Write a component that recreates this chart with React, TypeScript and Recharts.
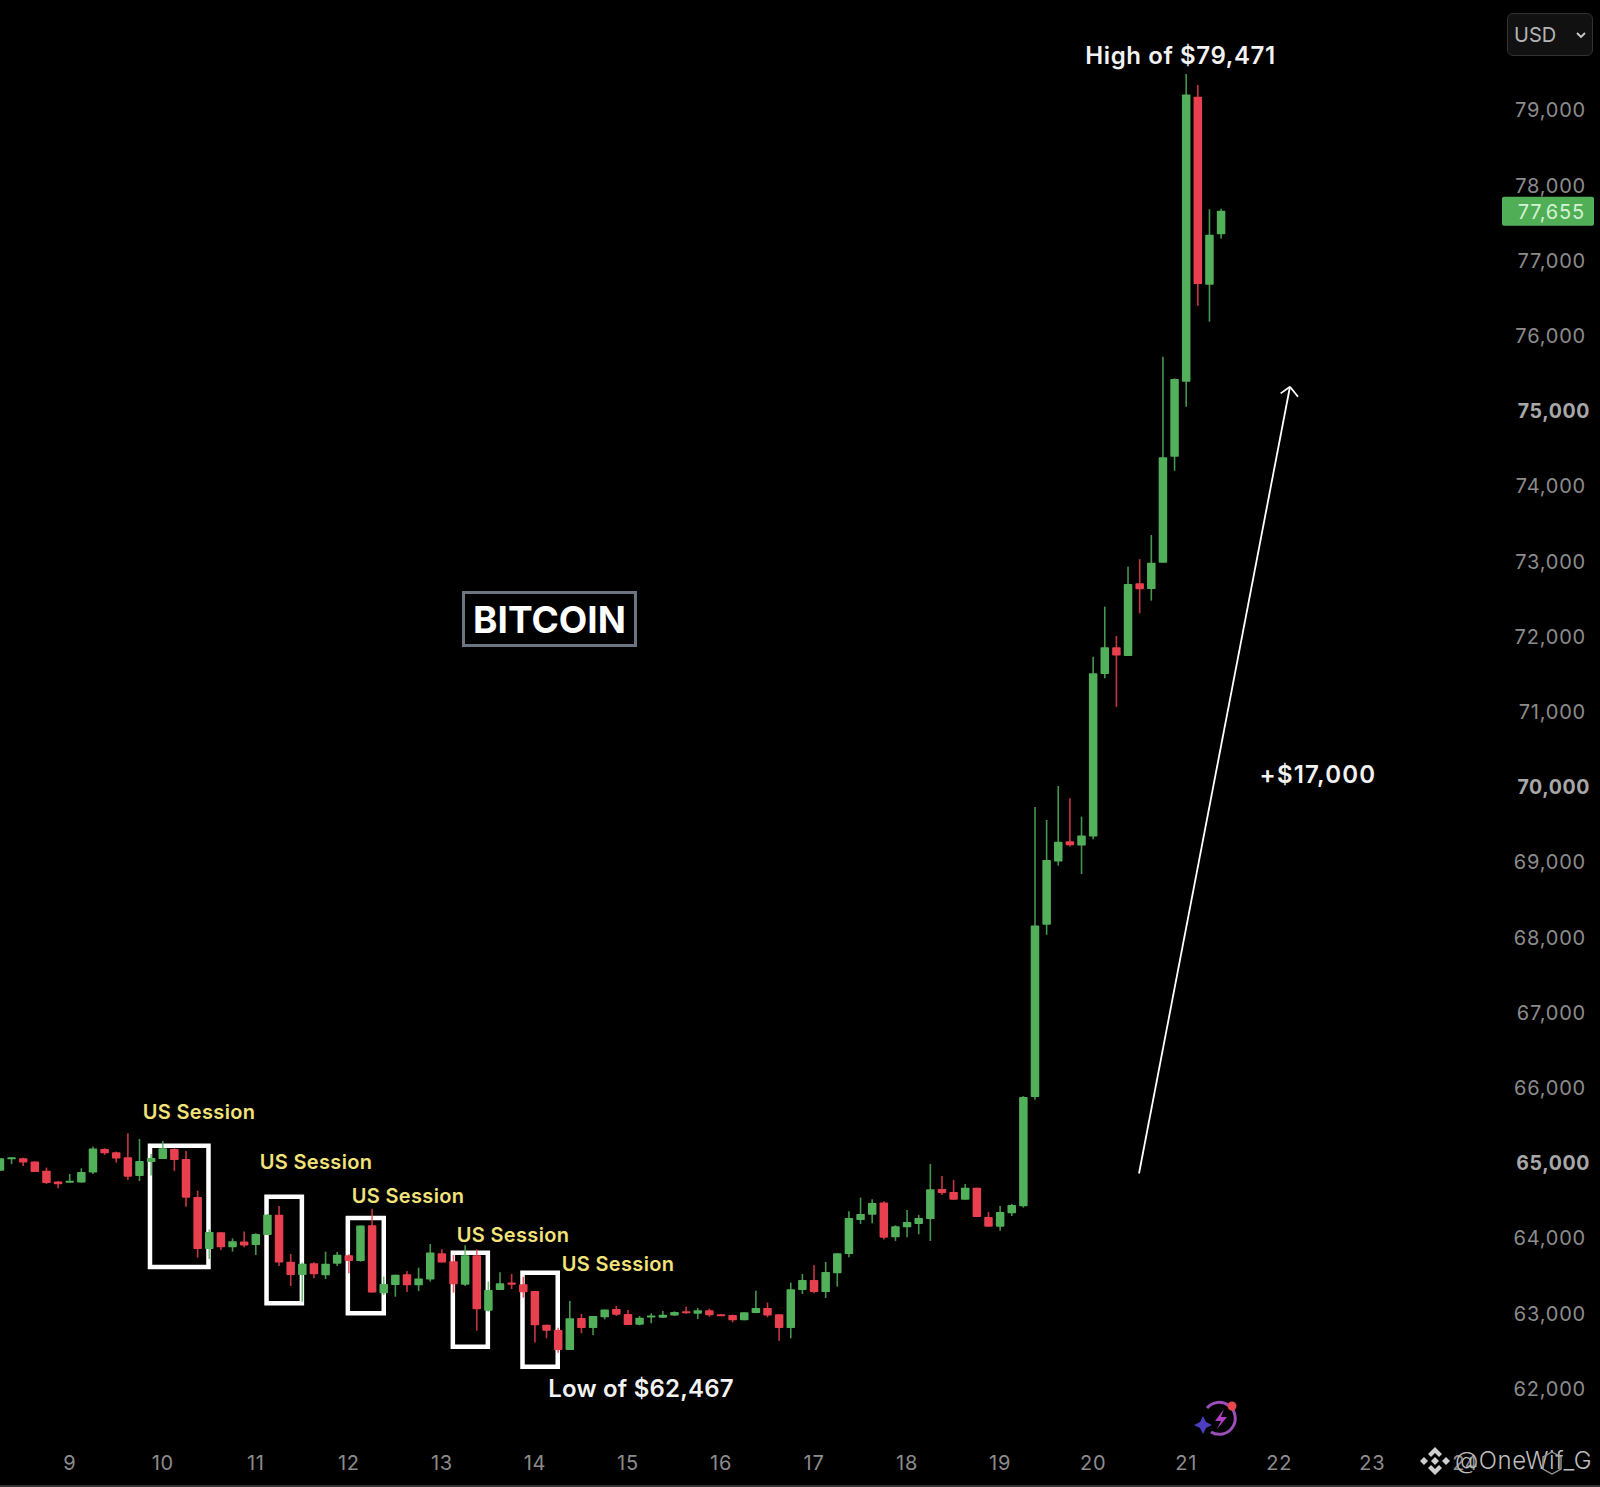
import { ComposedChart, Bar, XAxis, YAxis, ReferenceArea, ReferenceLine } from "recharts";

const opens = [64889,65049,65053,65009,64889,64743,64730,64730,64863,65177,65133,65067,64818,65004,65044,65177,65044,64539,63847,64069,63870,63945,63901,64034,64304,63679,63502,63657,63497,63652,63763,63688,64162,63258,63369,63510,63364,63440,63790,63683,63373,63763,63027,63302,63400,63377,63289,62841,62770,62504,62930,62797,62939,63049,62983,62841,62939,62934,62961,63018,62987,63032,62978,62970,62899,62996,63063,62979,62797,63302,63435,63276,63524,63781,64233,64304,64464,64003,64135,64180,64246,64645,64605,64503,64663,64273,64144,64322,64415,65868,68160,69000,69268,69211,69331,71494,71849,71733,72700,72624,72973,74383,75380,79170,76670,77340];
const highs = [65053,65067,65062,65009,64929,64752,64845,64920,65208,65186,65142,65386,65310,65111,65284,65186,65151,64623,64109,64069,63989,64078,64056,64313,64419,63781,63666,63670,63812,63807,63776,64158,64379,63480,63506,63555,63599,63914,63843,63768,63896,63843,63413,63537,63515,63479,63289,62841,62801,63156,62983,62956,63041,63089,63036,62956,62992,63023,63018,63080,63063,63054,62983,62974,63005,63293,63134,62979,63400,63515,63635,63675,63790,64348,64530,64508,64481,64162,64366,64300,64978,64818,64765,64712,64663,64340,64419,64446,65880,69725,69552,70004,69840,69597,71724,72389,72000,72921,73020,73341,75713,75424,79471,79325,77672,77680];
const lows = [64889,64978,64951,64871,64712,64654,64730,64730,64845,65098,64996,64765,64752,64823,65044,64885,64410,63732,63714,63834,63812,63870,63768,64034,63621,63355,63147,63457,63448,63621,63524,63679,63267,63236,63213,63275,63289,63413,63666,63267,63355,62761,63014,63302,63315,63200,62602,62659,62467,62504,62726,62704,62912,62956,62837,62832,62859,62930,62956,62987,62916,62947,62956,62872,62899,62992,62939,62628,62659,63249,63258,63196,63347,63737,64180,64189,63972,63954,64003,64042,63954,64566,64503,64503,64273,64144,64091,64286,64397,65830,68026,68945,69198,68834,69295,71436,71055,71733,72301,72469,72973,74197,75048,76391,76178,77282];
const closes = [65053,65067,64996,64871,64725,64707,64756,64871,65182,65120,65049,64809,65018,65058,65186,65031,64530,63847,64073,63870,63949,63892,64047,64304,63666,63502,63652,63511,63652,63772,63688,64158,63267,63382,63506,63364,63453,63799,63666,63377,63763,63045,63302,63391,63373,63271,62832,62761,62504,62925,62797,62956,63041,62974,62837,62934,62961,62974,63009,62996,63032,62965,62965,62899,63005,63063,62961,62797,63311,63435,63276,63542,63790,64260,64313,64459,63998,64149,64206,64260,64641,64592,64503,64663,64273,64144,64340,64433,65868,68149,69020,69264,69215,69344,71503,71849,71738,72691,72620,72973,74374,75416,79201,76679,77335,77655];

const dayTicks = [6, 14, 22, 30, 38, 46, 54, 62, 70, 78, 86, 94, 102, 110, 118, 126];
const dayLabels = ["9", "10", "11", "12", "13", "14", "15", "16", "17", "18", "19", "20", "21", "22", "23", "24"];
const priceTicks = [62000, 63000, 64000, 65000, 66000, 67000, 68000, 69000, 70000, 71000, 72000, 73000, 74000, 75000, 76000, 77000, 78000, 79000];
const boldPrices = [65000, 70000, 75000];
const lastPrice = 77655;

// [first index, last index, top price, bottom price]
const sessionBoxes = [
  [12.94, 17.97, 65221, 63607],
  [22.96, 26.0, 64542, 63125],
  [29.95, 33.04, 64259, 62992],
  [38.98, 41.99, 63796, 62547],
  [44.97, 48.0, 63532, 62282],
];

const GREEN = "#52b05a";
const RED = "#e8404f";

const candles = opens.map((open, i) => ({
  index: i,
  open,
  high: highs[i],
  low: lows[i],
  close: closes[i],
  range: [lows[i], highs[i]],
}));

function Candle(props: any) {
  const { x, y, width, height, payload } = props;
  const top = Math.min(y, y + height);
  const h = Math.abs(height);
  const perUnit = h / (payload.high - payload.low);
  const bodyTop = top + (payload.high - Math.max(payload.open, payload.close)) * perUnit;
  const bodyH = Math.max(Math.abs(payload.close - payload.open) * perUnit, 2);
  const color = payload.close >= payload.open ? GREEN : RED;
  const cx = x + width / 2;
  return (
    <g>
      <line x1={cx} x2={cx} y1={top} y2={top + h} stroke={color} strokeOpacity={0.85} strokeWidth={1.6} />
      <rect x={x} y={bodyTop} width={width} height={bodyH} fill={color} rx={0.8} />
    </g>
  );
}

function PriceTick(props: any) {
  const { y, payload } = props;
  const value = payload.value;
  const label = value.toLocaleString("en-US");
  if (value === lastPrice) {
    return (
      <g>
        <rect x={1502} y={y - 14} width={92} height={29} rx={2} fill="#4fae56" />
        <text x={1585} y={y + 8} textAnchor="end" fill="#d4f2d4" fontSize={20} letterSpacing={0.8} fontFamily="Inter">
          {label}
        </text>
      </g>
    );
  }
  const bold = boldPrices.includes(value);
  return (
    <text
      x={bold ? 1590 : 1586}
      y={y + 8}
      textAnchor="end"
      fill={bold ? "#a8a8a8" : "#8c8c8c"}
      fontSize={bold ? 19.5 : 20}
      fontWeight={bold ? 700 : 400}
      letterSpacing={bold ? 0.6 : 0.8}
      fontFamily="Inter"
    >
      {label}
    </text>
  );
}

function DayTick(props: any) {
  const { x, payload } = props;
  return (
    <text x={x + 0.5} y={1470} textAnchor="middle" fill="#8c8c8c" fontSize={20} letterSpacing={0.8} fontFamily="Inter">
      {dayLabels[dayTicks.indexOf(payload.value)]}
    </text>
  );
}

function Note({ x, y, size, color, spacing, children }: any) {
  return (
    <div
      style={{
        position: "absolute",
        left: x,
        top: y,
        transform: "translate(-50%, -50%)",
        color,
        fontSize: size,
        fontWeight: 600,
        fontFamily: "Inter",
        letterSpacing: spacing,
        whiteSpace: "nowrap",
        lineHeight: 1,
      }}
    >
      {children}
    </div>
  );
}

const YELLOW = "#f3e37a";

export default function App() {
  return (
    <div style={{ position: "absolute", left: 0, top: 0, width: 1600, height: 1487, background: "#000", overflow: "hidden" }}>
      <ComposedChart
        width={1600}
        height={1487}
        data={candles}
        margin={{ left: -0.5, right: 0, top: 0, bottom: 0 }}
        style={{ position: "absolute", left: 0, top: 0 }}
      >
        <XAxis
          dataKey="index"
          type="number"
          domain={[0, 129.02]}
          allowDataOverflow
          ticks={dayTicks}
          interval={0}
          height={47}
          axisLine={false}
          tickLine={false}
          tick={<DayTick />}
        />
        <YAxis
          type="number"
          orientation="right"
          domain={[61307, 80456]}
          allowDataOverflow
          ticks={[...priceTicks, lastPrice]}
          interval={0}
          width={100}
          axisLine={false}
          tickLine={false}
          tick={<PriceTick />}
        />
        {sessionBoxes.map(([x1, x2, y1, y2]) => (
          <ReferenceArea key={x1} x1={x1} x2={x2} y1={y1} y2={y2} fill="none" fillOpacity={0} stroke="#fff" strokeWidth={4.5} />
        ))}
        <Bar dataKey="range" barSize={8.5} shape={<Candle />} isAnimationActive={false} />
        <ReferenceLine segment={[{ x: 97.98, y: 64851 }, { x: 110.96, y: 75313 }]} stroke="#fff" strokeWidth={1.8} />
        <ReferenceLine segment={[{ x: 110.16, y: 75225 }, { x: 110.96, y: 75313 }]} stroke="#fff" strokeWidth={1.8} />
        <ReferenceLine segment={[{ x: 111.65, y: 75180 }, { x: 110.96, y: 75313 }]} stroke="#fff" strokeWidth={1.8} />
      </ComposedChart>

      <Note x={1180.5} y={56} size={24} spacing={0.6} color="#f2f2f2">High of $79,471</Note>
      <Note x={641} y={1389} size={24} spacing={0.2} color="#f2f2f2">Low of $62,467</Note>
      <Note x={1318} y={775} size={24} spacing={1.2} color="#f2f2f2">+$17,000</Note>
      <Note x={199} y={1112} size={20} spacing={0.35} color={YELLOW}>US Session</Note>
      <Note x={316} y={1162} size={20} spacing={0.35} color={YELLOW}>US Session</Note>
      <Note x={408} y={1196} size={20} spacing={0.35} color={YELLOW}>US Session</Note>
      <Note x={513} y={1235} size={20} spacing={0.35} color={YELLOW}>US Session</Note>
      <Note x={618} y={1264} size={20} spacing={0.35} color={YELLOW}>US Session</Note>

      <div
        style={{
          position: "absolute",
          left: 462,
          top: 591,
          width: 175,
          height: 56,
          boxSizing: "border-box",
          border: "3.5px solid #6c7482",
          color: "#fff",
          fontFamily: "Inter",
          fontWeight: 700,
          fontSize: 37,
          lineHeight: "52px",
          textAlign: "center",
        }}
      >
        BITCOIN
      </div>

      <div
        style={{
          position: "absolute",
          left: 1507,
          top: 13,
          width: 86,
          height: 43,
          boxSizing: "border-box",
          border: "1.5px solid #333",
          borderRadius: 6,
          background: "#111",
          color: "#b5b5b5",
          fontFamily: "Inter",
          fontSize: 20,
          lineHeight: "42px",
          paddingLeft: 6,
        }}
      >
        USD
        <svg width="12" height="8" style={{ position: "absolute", left: 67, top: 17 }}>
          <path d="M2 2 L6 6 L10 2" fill="none" stroke="#ccc" strokeWidth="1.8" />
        </svg>
      </div>

      {/* watermark */}
      <svg width="32" height="32" style={{ position: "absolute", left: 1419, top: 1445 }} fill="#cfcfcf">
        <path d="M16 2 L23 9 L20 12 L16 8 L12 12 L9 9 Z" />
        <path d="M16 30 L23 23 L20 20 L16 24 L12 20 L9 23 Z" />
        <path d="M5 12 L9 16 L5 20 L1 16 Z" />
        <path d="M27 12 L31 16 L27 20 L23 16 Z" />
        <path d="M16 12 L20 16 L16 20 L12 16 Z" />
      </svg>
      <div style={{ position: "absolute", left: 1455, top: 1445, color: "#bdbdbd", fontFamily: "Inter", fontWeight: 300, fontSize: 24, lineHeight: "32px", letterSpacing: 0.5, whiteSpace: "nowrap" }}>
        @OneWif_G
      </div>
      <svg width="24" height="26" style={{ position: "absolute", left: 1540, top: 1450 }}>
        <path d="M12 2 L21 7 L21 19 L12 24 L3 19 L3 7 Z" fill="none" stroke="#9a9a9a" strokeWidth="1.4" />
      </svg>
      <svg width="50" height="50" style={{ position: "absolute", left: 1194, top: 1396 }}>
        <path d="M13 12 A16 16 0 1 1 17 36" fill="none" stroke="#9b4fb8" strokeWidth="3" />
        <path d="M30 13 L21 25 L27 25 L23 33 L33 21 L27 21 Z" fill="#b13fc4" />
        <circle cx="38" cy="10" r="4.5" fill="#e8474f" />
        <path d="M9 20 L12 26 L18 29 L12 32 L9 38 L6 32 L0 29 L6 26 Z" fill="#4b3fc0" />
      </svg>
      <div style={{ position: "absolute", left: 0, top: 1485, width: 1600, height: 2, background: "#333" }} />
    </div>
  );
}
